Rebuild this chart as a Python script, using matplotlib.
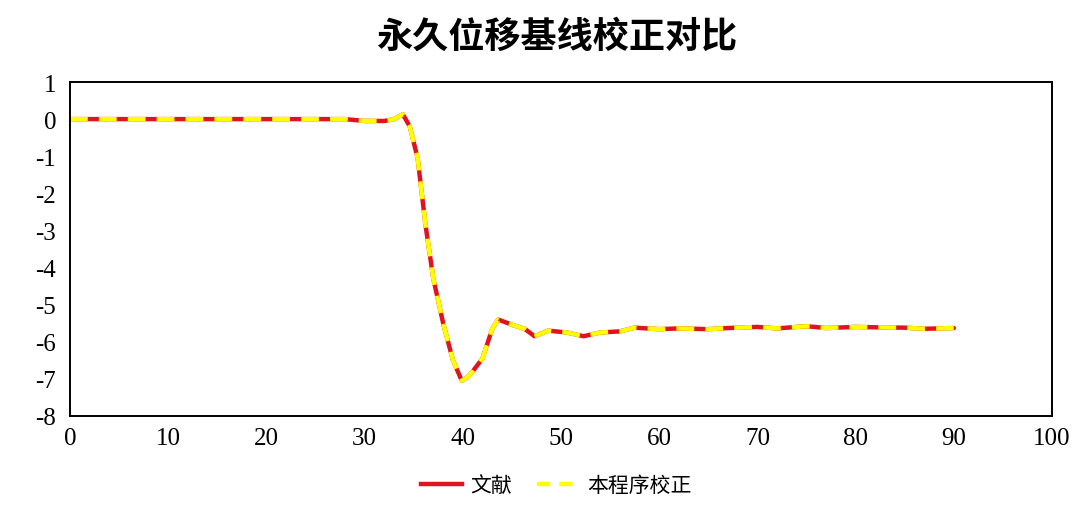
import matplotlib
matplotlib.use("Agg")
import matplotlib.pyplot as plt
from matplotlib.lines import Line2D

time_s = [0, 5, 10, 15, 20, 25, 28, 30, 31, 32, 33, 33.9, 34.6, 35.4, 36.2, 37.0, 38.0, 39.0, 39.9, 40.5, 41.0, 42.0, 43.0, 43.6, 45.1, 46.3, 47.3, 48.7, 50.6, 52.3, 54, 56, 57.5, 60, 62, 65, 67, 70, 72, 75, 77, 80, 82, 85, 87, 90]
literature = [0, 0, 0, 0, 0, 0, 0, -0.05, -0.05, -0.05, 0.0, 0.13, -0.2, -1.05, -2.85, -4.3, -5.5, -6.5, -7.05, -6.95, -6.8, -6.45, -5.65, -5.4, -5.55, -5.65, -5.85, -5.7, -5.75, -5.85, -5.75, -5.72, -5.62, -5.66, -5.64, -5.66, -5.63, -5.6, -5.64, -5.58, -5.63, -5.6, -5.61, -5.62, -5.65, -5.63]
program = list(literature)

plt.rcParams['font.family'] = ['Liberation Serif', 'Noto Sans CJK SC']
plt.rcParams['axes.unicode_minus'] = False
fig = plt.figure(figsize=(10.8, 5.06), dpi=100)
ax = fig.add_axes([70/1080, 1-417/506, (1052-70)/1080, (417-83)/506])
ax.plot(time_s, literature, color='#e0141e', lw=3.2, solid_capstyle='round')
ax.plot(time_s, program, color='#ffff00', lw=3.2, dashes=(4, 2.5))
ax.set_xlim(0, 100)
ax.set_ylim(-8, 1)
ax.set_xticks(range(0, 101, 10))
ax.set_yticks(range(-8, 2))
ax.tick_params(labelsize=18, length=0, pad=10)
ax.tick_params(axis='x', pad=8)
for s in ax.spines.values():
    s.set_linewidth(1.4)
fig.text(0.515, 1-37/506, '永久位移基线校正对比', ha='center', va='center', fontsize=26, fontweight='bold', family=['Noto Sans CJK SC'])
handles = [Line2D([], [], color='#e0141e', lw=3.2), Line2D([], [], color='#ffff00', lw=3.2, dashes=(3, 2))]
fig.legend(handles, ['文献', '本程序校正'], loc='center', bbox_to_anchor=(0.515, 1-486/506), ncol=2, frameon=False, handlelength=2.0, handletextpad=0.4, columnspacing=1.2, prop={'family': ['Noto Sans CJK SC'], 'size': 15})
fig.savefig('out.png', dpi=100)
